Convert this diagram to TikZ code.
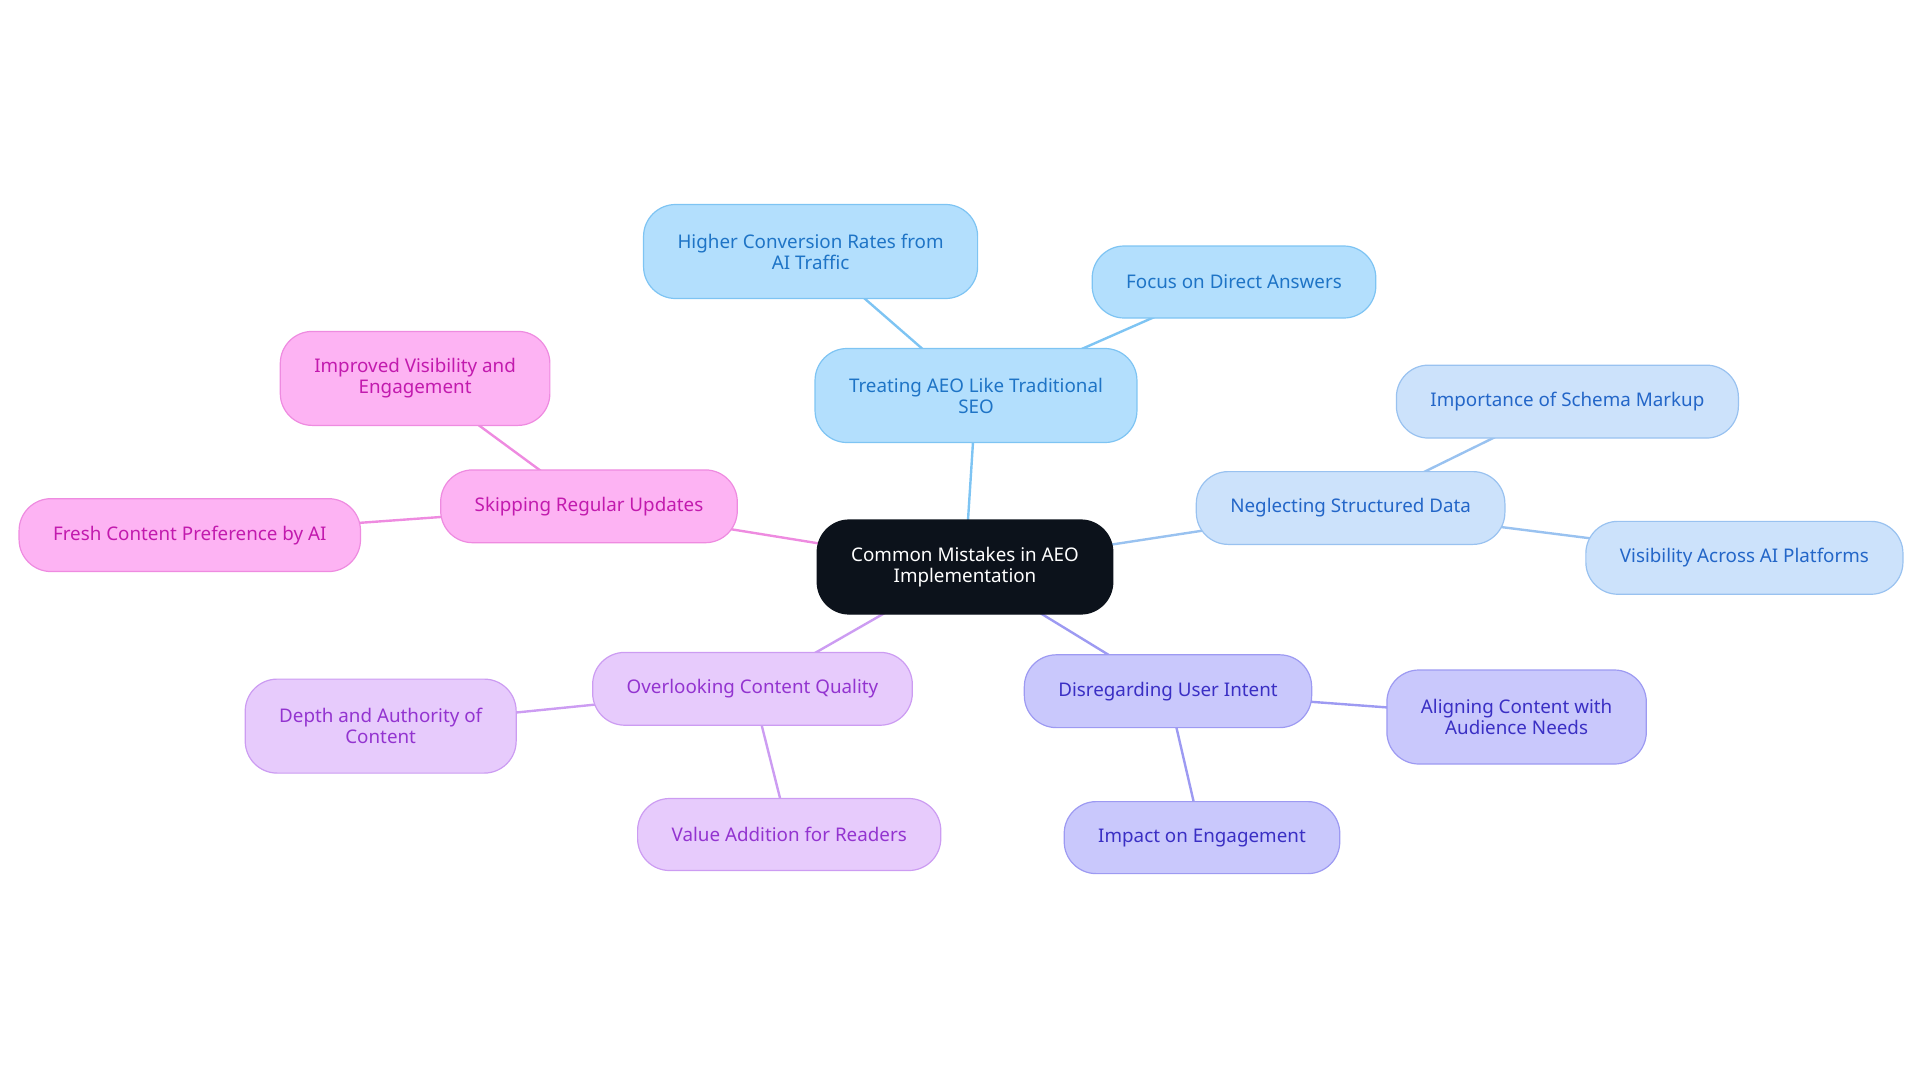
\documentclass[tikz,border=0pt]{standalone}
\usepackage{fontspec}
\setmainfont{Noto Sans}
\usetikzlibrary{positioning,backgrounds}

\definecolor{rootfill}{HTML}{0C121B}
\definecolor{seofill}{HTML}{B3DFFD}
\definecolor{seoline}{HTML}{7EC4F3}
\definecolor{seotext}{HTML}{1E74C6}
\definecolor{datafill}{HTML}{CCE2FB}
\definecolor{dataline}{HTML}{99C2F0}
\definecolor{datatext}{HTML}{2366C8}
\definecolor{userfill}{HTML}{C9C8FC}
\definecolor{userline}{HTML}{9D9AF2}
\definecolor{usertext}{HTML}{3A2FC4}
\definecolor{qualfill}{HTML}{E7CBFC}
\definecolor{qualline}{HTML}{CC9CF2}
\definecolor{qualtext}{HTML}{9334D0}
\definecolor{updfill}{HTML}{FDB3F3}
\definecolor{updline}{HTML}{EE8BE0}
\definecolor{updtext}{HTML}{C21AAE}

\begin{document}
\begin{tikzpicture}[on grid=true, font=\fontsize{9.4}{10.5}\selectfont,
    node/.style = {draw, rounded corners=16pt, align=center, inner xsep=17pt, inner ysep=13.5pt, minimum height=36pt, line width=0.6pt},
    tall/.style = {minimum height=47pt},
    root/.style = {node, tall, fill=rootfill, draw=rootfill, text=white},
    seo/.style = {node, fill=seofill, draw=seoline, text=seotext},
    data/.style = {node, fill=datafill, draw=dataline, text=datatext},
    user/.style = {node, fill=userfill, draw=userline, text=usertext},
    qual/.style = {node, fill=qualfill, draw=qualline, text=qualtext},
    upd/.style = {node, fill=updfill, draw=updline, text=updtext},
    link/.style = {line width=1.2pt}]
      \useasboundingbox (-482.5pt,-258pt) rectangle (477.5pt,283.5pt);

      \node[root] (c) {Common Mistakes in AEO\\Implementation};

      \node[seo,tall] (t) [above right=85.75pt and 5.5pt of c] {Treating AEO Like Traditional\\SEO};
      \node[seo,tall] (t1) [above left=72pt and 82.7pt of t] {Higher Conversion Rates from\\AI Traffic};
      \node[seo] (t2) [above right=56.75pt and 129pt of t] {Focus on Direct Answers};

      \node[data] (n) [above right=29.5pt and 192.8pt of c] {Neglecting Structured Data};
      \node[data] (n1) [above right=53.2pt and 108.4pt of n] {Importance of Schema Markup};
      \node[data] (n2) [below right=24.9pt and 196.9pt of n] {Visibility Across AI Platforms};

      \node[user] (d) [below right=62.1pt and 101.5pt of c] {Disregarding User Intent};
      \node[user,tall] (d1) [below right=12.9pt and 174.3pt of d] {Aligning Content with\\Audience Needs};
      \node[user] (d2) [below right=73.2pt and 17pt of d] {Impact on Engagement};

      \node[qual] (o) [below left=60.9pt and 106.25pt of c] {Overlooking Content Quality};
      \node[qual,tall] (o1) [below left=18.65pt and 185.9pt of o] {Depth and Authority of\\Content};
      \node[qual] (o2) [below right=72.85pt and 18.35pt of o] {Value Addition for Readers};

      \node[upd] (s) [above left=30.35pt and 188pt of c] {Skipping Regular Updates};
      \node[upd,tall] (s1) [above left=63.95pt and 86.95pt of s] {Improved Visibility and\\Engagement};
      \node[upd] (s2) [below left=14.4pt and 199.6pt of s] {Fresh Content Preference by AI};

      \begin{scope}[on background layer]
      \draw[link,seoline] (c.center) to (t.center);
      \draw[link,seoline] (t.center) to (t1.center);
      \draw[link,seoline] (t.center) to (t2.center);

      \draw[link,dataline] (c.center) to (n.center);
      \draw[link,dataline] (n.center) to (n1.center);
      \draw[link,dataline] (n.center) to (n2.center);

      \draw[link,userline] (c.center) to (d.center);
      \draw[link,userline] (d.center) to (d1.center);
      \draw[link,userline] (d.center) to (d2.center);

      \draw[link,qualline] (c.center) to (o.center);
      \draw[link,qualline] (o.center) to (o1.center);
      \draw[link,qualline] (o.center) to (o2.center);

      \draw[link,updline] (c.center) to (s.center);
      \draw[link,updline] (s.center) to (s1.center);
      \draw[link,updline] (s.center) to (s2.center);
      \end{scope}
    \end{tikzpicture}
\end{document}
